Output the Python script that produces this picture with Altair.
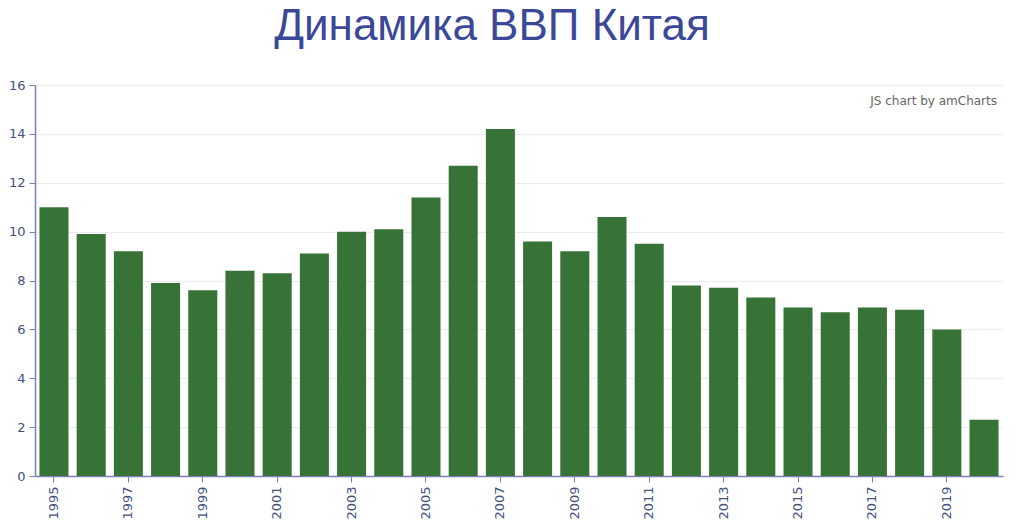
import altair as alt
import pandas as pd

years = [str(y) for y in range(1995, 2021)]
gdp_growth = [11.0, 9.9, 9.2, 7.9, 7.6, 8.4, 8.3, 9.1, 10.0, 10.1, 11.4, 12.7, 14.2,
              9.6, 9.2, 10.6, 9.5, 7.8, 7.7, 7.3, 6.9, 6.7, 6.9, 6.8, 6.0, 2.3]
tick_years = [str(y) for y in range(1995, 2020, 2)]
title_text = "Динамика ВВП Китая"
credit_text = "JS chart by amCharts"

df = pd.DataFrame({"year": years, "value": gdp_growth})

W, H = 968, 391

bars = alt.Chart(df).mark_bar(color="#377237").encode(
    x=alt.X("year:O", title=None,
            scale=alt.Scale(paddingInner=0.22, paddingOuter=0.12),
            axis=alt.Axis(values=tick_years, labelAngle=-90, labelAlign="right",
                          labelBaseline="middle", labelFontSize=13, labelColor="#44507e",
                          labelFont="DejaVu Sans", labelPadding=4,
                          tickSize=6, tickColor="#7b80bd", domainColor="#7b80bd",
                          domainWidth=1.5, grid=False)),
    y=alt.Y("value:Q", title=None,
            scale=alt.Scale(domain=[0, 16], nice=False),
            axis=alt.Axis(values=list(range(0, 17, 2)), labelFontSize=13, labelColor="#44507e",
                          labelFont="DejaVu Sans", labelPadding=4,
                          tickSize=6, tickColor="#7b80bd", domainColor="#7b80bd",
                          domainWidth=1.5, gridColor="#ececec", gridWidth=1)),
)

credit = alt.Chart(pd.DataFrame({"t": [credit_text]})).mark_text(
    align="right", baseline="middle", fontSize=12, color="#666666", font="DejaVu Sans"
).encode(text="t:N", x=alt.value(W - 6), y=alt.value(16))

chart = alt.layer(bars, credit).properties(
    width=W, height=H,
    background="white",
    title=alt.TitleParams(title_text, fontSize=44, font="Liberation Sans", fontWeight="normal",
                          color="#3b4898", anchor="middle", dx=-27, offset=30),
    autosize=alt.AutoSizeParams(type="none"),
    padding={"left": 27, "top": 77, "right": 13, "bottom": 50},
).configure_view(strokeWidth=0, stroke="transparent")

chart.save("out.html", embed_options={"renderer": "svg", "actions": False})
